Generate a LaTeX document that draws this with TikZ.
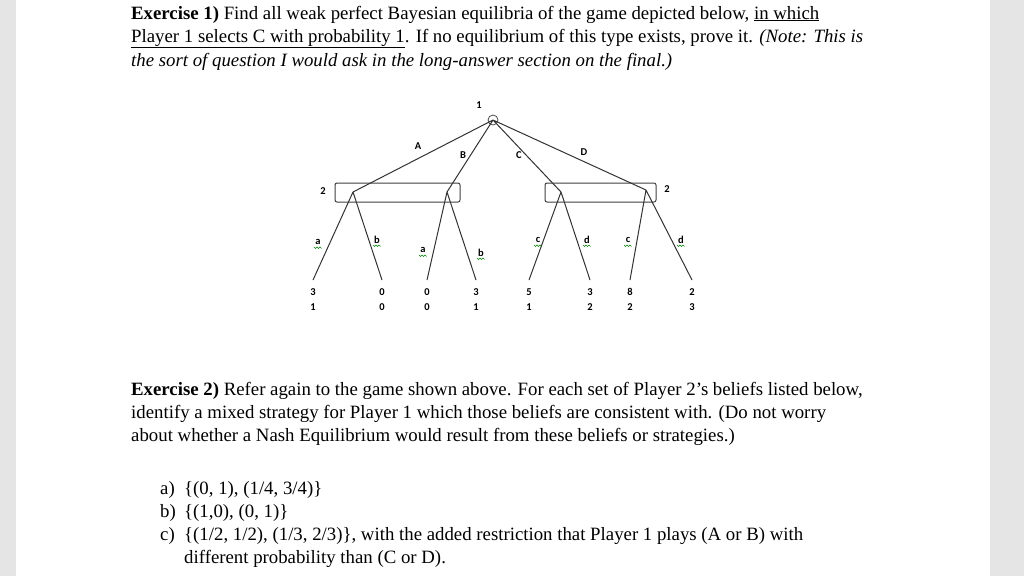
\documentclass[tikz,border=0pt]{standalone}
\usepackage{fontspec}
\setmainfont{Liberation Serif}
\newfontfamily\treefont{Carlito}
\begin{document}
\begin{tikzpicture}[x=1pt,y=-1pt,
  txt/.style={anchor=base west,inner sep=0pt,font=\fontsize{18.8}{20}\selectfont},
  lbl/.style={inner sep=0pt,font=\treefont\bfseries\fontsize{10.5}{11}\selectfont},
  edge/.style={draw=black!80,line width=1pt},
  infoset/.style={draw=black!75,line width=1pt,rounded corners=2pt},
  sq/.style={green!50!black,line width=0.6pt}]
\fill[black!10] (0,0) rectangle (1024,576);
\fill[white] (16,0) rectangle (990,576);
\useasboundingbox (0,0) rectangle (1024,576);
% text ex 1
\node[txt] (l1) at (131,19) {\textbf{Exercise 1)} Find all weak perfect Bayesian equilibria of the game depicted below, \underline{in which}};
\node[txt] (l2) at (131,42) {\underline{Player 1 selects C with probability 1}. If no equilibrium of this type exists, prove it. \textit{(Note: This is}};
\node[txt] (l3) at (131,66) {\textit{the sort of question I would ask in the long-answer section on the final.)}};
% tree
\node[draw=black!70,circle,minimum size=10pt,inner sep=0pt,line width=0.8pt] (r) at (493,120) {};
\node[lbl] (p1) at (479,105) {1};
\draw[infoset] (335,183) rectangle (460,202);
\draw[infoset] (545,183) rectangle (656,202);
\coordinate (nA) at (353,192);
\coordinate (nB) at (447,192);
\coordinate (nC) at (561,192);
\coordinate (nD) at (646,190);
\draw[edge] (r.center) -- (nA) (r.center) -- (nB) (r.center) -- (nC) (r.center) -- (nD);
\foreach \n/\x in {1/313,2/382,3/427,4/476,5/529,6/590,7/630,8/692}{\coordinate (t\n) at (\x,280);}
\draw[edge] (nA) -- (t1) (nA) -- (t2) (nB) -- (t3) (nB) -- (t4) (nC) -- (t5) (nC) -- (t6) (nD) -- (t7) (nD) -- (t8);
\node[lbl] at (418,146) {A};
\node[lbl] at (463,155) {B};
\node[lbl] at (519,155) {C};
\node[lbl] at (584,152) {D};
\node[lbl] at (323,191) {2};
\node[lbl] at (667,189) {2};
\foreach \t/\x/\y in {a/318/242,b/377/240,a/423/250,b/481/253,c/538/240,d/587/240,c/628/240,d/681/240}{
  \node[lbl] at (\x,\y) {\t};
  \draw[sq] (\x-4,\y+5) -- (\x-2.5,\y+6.5) -- (\x-1,\y+5) -- (\x+0.5,\y+6.5) -- (\x+2,\y+5) -- (\x+3.5,\y+6.5);
}
\foreach \x/\u/\v in {313/3/1,382/0/0,427/0/0,476/3/1,529/5/1,590/3/2,630/8/2,692/2/3}{
  \node[lbl] at (\x,292) {\u};
  \node[lbl] at (\x,307) {\v};
}
% text ex 2
\node[txt] (m1) at (131,395) {\textbf{Exercise 2)} Refer again to the game shown above. For each set of Player 2's beliefs listed below,};
\node[txt] (m2) at (131,418) {identify a mixed strategy for Player 1 which those beliefs are consistent with. (Do not worry};
\node[txt] (m3) at (131,441) {about whether a Nash Equilibrium would result from these beliefs or strategies.)};
\node[txt] (ia) at (160,494) {a)};
\node[txt] (ja) at (184,494) {\{(0, 1), (1/4, 3/4)\}};
\node[txt] (ib) at (160,517) {b)};
\node[txt] (jb) at (184,517) {\{(1,0), (0, 1)\}};
\node[txt] (ic) at (160,540) {c)};
\node[txt] (jc) at (184,540) {\{(1/2, 1/2), (1/3, 2/3)\}, with the added restriction that Player 1 plays (A or B) with};
\node[txt] (jd) at (184,563) {different probability than (C or D).};
\end{tikzpicture}
\end{document}
